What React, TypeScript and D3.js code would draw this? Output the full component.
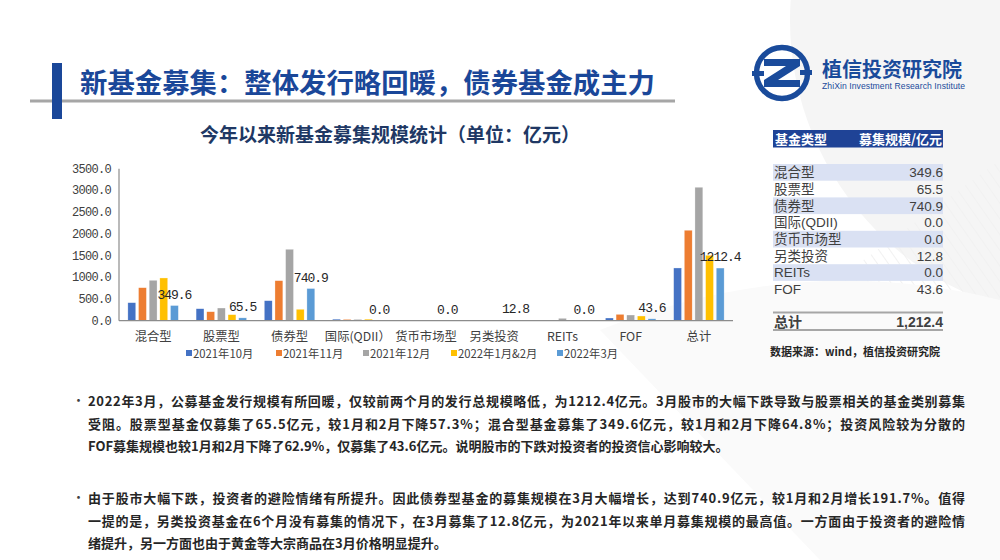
import React from 'react';
import * as d3 from 'd3';

const categories = ['混合型', '股票型', '债券型', '国际(QDII）', '货币市场型', '另类投资', 'REITs', 'FOF', '总计'];
const seriesNames = ['2021年10月', '2021年11月', '2021年12月', '2022年1月&2月', '2022年3月'];
const oct2021 = [415, 276, 461, 35, 0, 0, 0, 62, 1214];
const nov2021 = [760, 207, 922, 30, 0, 0, 0, 146, 2083];
const dec2021 = [931, 292, 1645, 30, 0, 0, 55, 131, 3073];
const janFeb2022 = [984, 139, 263, 35, 0, 0, 0, 108, 1507];
const mar2022 = [349.6, 65.5, 740.9, 0.0, 0.0, 12.8, 0.0, 43.6, 1212.4];
const seriesColors = ['#4472C4', '#ED7D31', '#A5A5A5', '#FFC000', '#5B9BD5'];
const yTicks = [0, 500, 1000, 1500, 2000, 2500, 3000, 3500];

const tableTypes = ['混合型', '股票型', '债券型', '国际(QDII)', '货币市场型', '另类投资', 'REITs', 'FOF'];
const tableValues = [349.6, 65.5, 740.9, 0.0, 0.0, 12.8, 0.0, 43.6];
const tableTotal = 1212.4;

const para1 = [
  '2022年3月，公募基金发行规模有所回暖，仅较前两个月的发行总规模略低，为1212.4亿元。3月股市的大幅下跌导致与股票相关的基金类别募集',
  '受阻。股票型基金仅募集了65.5亿元，较1月和2月下降57.3%；混合型基金募集了349.6亿元，较1月和2月下降64.8%；投资风险较为分散的',
  'FOF募集规模也较1月和2月下降了62.9%，仅募集了43.6亿元。说明股市的下跌对投资者的投资信心影响较大。',
];
const para2 = [
  '由于股市大幅下跌，投资者的避险情绪有所提升。因此债券型基金的募集规模在3月大幅增长，达到740.9亿元，较1月和2月增长191.7%。值得',
  '一提的是，另类投资基金在6个月没有募集的情况下，在3月募集了12.8亿元，为2021年以来单月募集规模的最高值。一方面由于投资者的避险情',
  '绪提升，另一方面也由于黄金等大宗商品在3月价格明显提升。',
];

const CJK = '"Noto Sans CJK SC", "Noto Sans", sans-serif';
const MONO = '"Liberation Mono", "DejaVu Sans Mono", monospace';
const TABLE_FONT = '"Liberation Sans", "Noto Sans CJK SC", sans-serif';

export default function App() {
  const series = [oct2021, nov2021, dec2021, janFeb2022, mar2022];
  const x0 = d3.scaleBand<string>().domain(categories).range([119, 733]);
  const bw = x0.bandwidth();
  const x1 = d3
    .scaleBand<number>()
    .domain(d3.range(series.length))
    .range([bw * 0.13, bw * 0.87])
    .paddingInner(0.26);
  const y = d3.scaleLinear().domain([0, 3500]).range([320.7, 168.7]);
  const fmt = d3.format('.1f');
  const fmtTotal = d3.format(',.1f');

  const legendX = [186, 276, 363, 451, 557];

  const rowY0 = 164;
  const rowH = 16.7;

  const renderPara = (lines: string[], y0: number) =>
    lines.map((ln, i) => (
      <text
        key={i}
        x={88}
        y={y0 + i * 22.6}
        fontFamily={CJK}
        fontSize={13}
        fontWeight={700}
        fill="#262626"
        {...(i < lines.length - 1 ? { textLength: 877, lengthAdjust: 'spacing' } : {})}
      >
        {ln}
      </text>
    ));

  return (
    <svg
      width={1000}
      height={560}
      style={{ position: 'absolute', left: 0, top: 0, background: '#ffffff' }}
      xmlns="http://www.w3.org/2000/svg"
    >
      <defs>
        <pattern id="hatch" width="9" height="9" patternUnits="userSpaceOnUse" patternTransform="rotate(-35)">
          <line x1="0" y1="0" x2="0" y2="9" stroke="#f1f1f1" strokeWidth="2" />
        </pattern>
        <clipPath id="rc">
          <rect x="0" y="0" width="1000" height="560" />
        </clipPath>
      </defs>

      {/* decorative background */}
      <g clipPath="url(#rc)">
        <circle cx={1090} cy={20} r={300} fill="#f5f5f5" />
        <path d="M700,380 L1000,160 L1000,430 Z" fill="url(#hatch)" />
        <path d="M600,330 Q800,250 1000,300 L1000,560 L820,560 Z" fill="#fafafa" />
      </g>

      {/* page title */}
      <line x1={30} x2={675} y1={101} y2={101} stroke="#a6a6a6" strokeWidth={3} />
      <rect x={52} y={63} width={10} height={56} fill="#1a4799" />
      <text
        x={80}
        y={93}
        fontFamily={CJK}
        fontSize={27}
        fontWeight={700}
        fill="#1a4799"
        textLength={575}
        lengthAdjust="spacingAndGlyphs"
      >
        新基金募集：整体发行略回暖，债券基金成主力
      </text>

      {/* logo */}
      <g>
        <circle cx={782} cy={73} r={25.5} fill="none" stroke="#1a4b9b" strokeWidth={5.5} />
        <path
          d="M764,59 L800,59 L800,66 L778,80 L800,80 L800,87 L764,87 L764,80 L786,66 L764,66 Z"
          fill="#1a4b9b"
        />
        <rect x={752} y={71} width={12} height={5} fill="#1a4b9b" />
        <rect x={800} y={70} width={12} height={5} fill="#1a4b9b" />
        <text x={822} y={77} fontFamily={CJK} fontSize={20} fontWeight={700} fill="#1a4b9b">
          植信投资研究院
        </text>
        <text x={822} y={89} fontFamily='"Liberation Sans", Arial, sans-serif' fontSize={8.6} fill="#1a4b9b" textLength={143} lengthAdjust="spacing">
          ZhiXin Investment Research Institute
        </text>
      </g>

      {/* chart title */}
      <text x={390} y={142} textAnchor="middle" fontFamily={CJK} fontSize={19} fontWeight={700} fill="#203864">
        今年以来新基金募集规模统计（单位：亿元）
      </text>

      {/* y axis ticks */}
      {yTicks.map((t) => (
        <text
          key={t}
          x={111}
          y={y(t) + 4}
          textAnchor="end"
          fontFamily={MONO}
          fontSize={12}
          letterSpacing={-0.7}
          fill="#404040"
        >
          {fmt(t)}
        </text>
      ))}

      {/* bars */}
      {series.map((vals, si) => (
        <g key={si}>
          {categories.map((c, ci) => {
            const v = vals[ci];
            if (v <= 0) return null;
            const xx = (x0(c) as number) + (x1(si) as number);
            return (
              <rect
                key={c}
                x={xx}
                y={y(v)}
                width={x1.bandwidth()}
                height={y(0) - y(v)}
                fill={seriesColors[si]}
                stroke="#ffffff"
                strokeOpacity={0.6}
                strokeWidth={0.5}
              />
            );
          })}
        </g>
      ))}

      {/* data labels for last series */}
      {categories.map((c, ci) => {
        const v = mar2022[ci];
        const cx = (x0(c) as number) + (x1(4) as number) + x1.bandwidth() / 2;
        return (
          <text
            key={c}
            x={cx}
            y={y(v) - 7}
            textAnchor="middle"
            fontFamily={MONO}
            fontSize={13}
            letterSpacing={-1}
            fill="#262626"
          >
            {fmt(v)}
          </text>
        );
      })}

      {/* axes lines */}
      <line x1={119} x2={119} y1={168.7} y2={320.7} stroke="#8c8c8c" strokeWidth={1.2} />
      <line x1={119} x2={733} y1={320.7} y2={320.7} stroke="#8c8c8c" strokeWidth={1.2} />

      {/* category labels */}
      {categories.map((c) => (
        <text
          key={c}
          x={(x0(c) as number) + bw / 2}
          y={341}
          textAnchor="middle"
          fontFamily={CJK}
          fontSize={12.3}
          fill="#404040"
        >
          {c}
        </text>
      ))}

      {/* legend */}
      {seriesNames.map((n, i) => (
        <g key={n}>
          <rect x={legendX[i]} y={350} width={6} height={6} fill={seriesColors[i]} />
          <text x={legendX[i] + 7} y={357.5} fontFamily={CJK} fontSize={11.3} fill="#404040">
            {n}
          </text>
        </g>
      ))}

      {/* table */}
      <rect x={773} y={130} width={170} height={17.5} fill="#1f4396" />
      <text x={775} y={143.5} fontFamily={CJK} fontSize={13} fontWeight={700} fill="#ffffff">
        基金类型
      </text>
      <text x={942} y={143.5} textAnchor="end" fontFamily={CJK} fontSize={13} fontWeight={700} fill="#ffffff">
        募集规模/亿元
      </text>
      {tableTypes.map((t, i) => (
        <g key={t}>
          {i % 2 === 0 && <rect x={773} y={rowY0 + i * rowH} width={170} height={rowH} fill="#dae1f3" />}
          <text x={774} y={rowY0 + i * rowH + 13.2} fontFamily={TABLE_FONT} fontSize={13.5} fill="#404040">
            {t}
          </text>
          <text
            x={943}
            y={rowY0 + i * rowH + 13.2}
            textAnchor="end"
            fontFamily='"Liberation Sans", Arial, sans-serif'
            fontSize={13.5}
            fill="#404040"
          >
            {fmt(tableValues[i])}
          </text>
        </g>
      ))}
      <line x1={773} x2={943} y1={312.5} y2={312.5} stroke="#a6a6a6" strokeWidth={2} />
      <text x={774} y={327} fontFamily={CJK} fontSize={14} fontWeight={700} fill="#404040">
        总计
      </text>
      <text
        x={943}
        y={327}
        textAnchor="end"
        fontFamily='"Liberation Sans", Arial, sans-serif'
        fontSize={14}
        fontWeight={700}
        fill="#404040"
      >
        {fmtTotal(tableTotal)}
      </text>
      <line x1={773} x2={943} y1={330} y2={330} stroke="#a6a6a6" strokeWidth={2} />
      <text x={770} y={356} fontFamily={CJK} fontSize={11} fontWeight={700} fill="#262626">
        数据来源：wind，植信投资研究院
      </text>

      {/* bullets & paragraphs */}
      <text x={72} y={405} fontFamily={CJK} fontSize={13} fill="#404040">•</text>
      {renderPara(para1, 406)}
      <text x={72} y={502} fontFamily={CJK} fontSize={13} fill="#404040">•</text>
      {renderPara(para2, 503)}
    </svg>
  );
}
